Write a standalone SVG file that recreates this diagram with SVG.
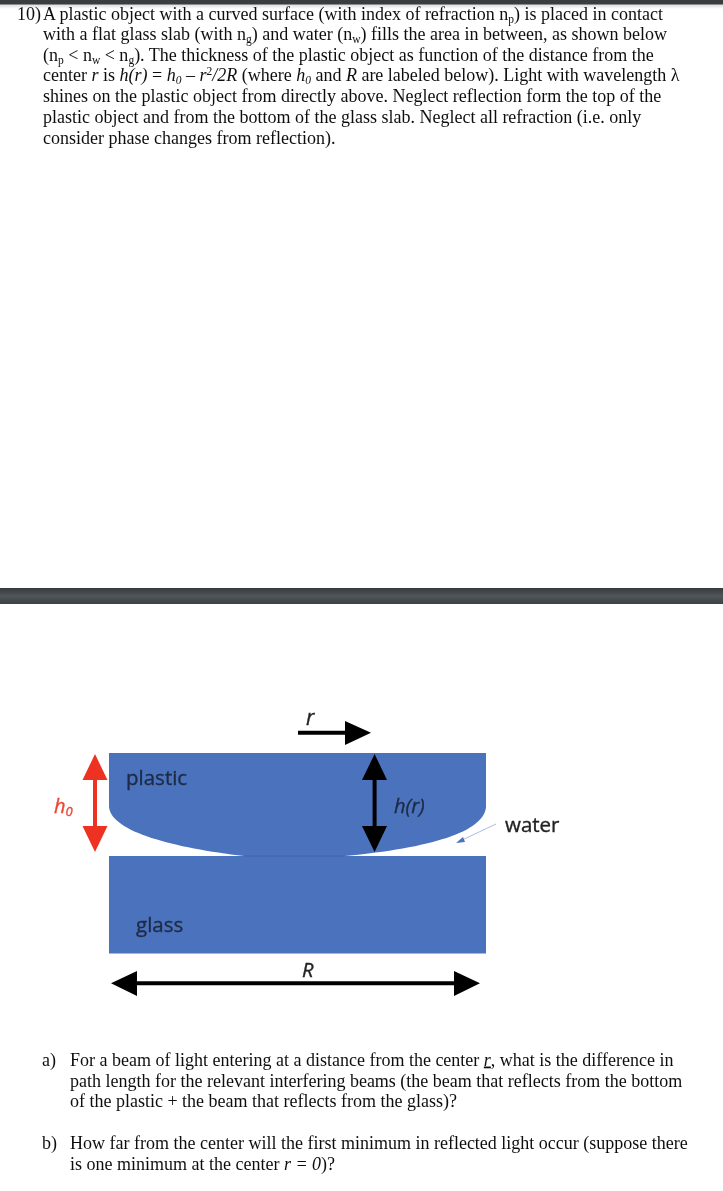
<svg xmlns="http://www.w3.org/2000/svg" width="723" height="1191" viewBox="0 0 723 1191">
<style>
.t{font-family:"Liberation Serif","Times New Roman",serif;font-size:18px;fill:#111}
.s{font-size:11.5px}
.l{font-family:"Open Sans","Liberation Sans",sans-serif;font-size:20.500px;fill:#222;stroke:#222;stroke-width:.35px}
.d{fill:#1d2a44;stroke:#1d2a44}
.b{fill:#4c72bd}
.i{font-style:italic}
</style>
<defs>
<linearGradient id="bar" x1="0" y1="0" x2="0" y2="1"><stop offset="0" stop-color="#363a3c"/><stop offset=".5" stop-color="#50565a"/><stop offset="1" stop-color="#3c4042"/></linearGradient>
<linearGradient id="shade" x1="0" y1="0" x2="0" y2="1"><stop offset="0" stop-color="#d8d8d8"/><stop offset="1" stop-color="#fff"/></linearGradient>
<filter id="blur" x="-5%" y="-5%" width="110%" height="110%"><feGaussianBlur stdDeviation="0.55"/></filter>
<filter id="tb" x="-5%" y="-20%" width="110%" height="140%"><feGaussianBlur stdDeviation="0.4"/></filter>
</defs>
<rect width="723" height="1191" fill="#fff"/>
<rect id="top-shade" x="0" y="4" width="723" height="5" fill="url(#shade)"/>
<rect id="top-bar" x="0" y="0" width="723" height="4.5" fill="#3a3d3f"/>
<rect id="mid-bar" x="0" y="588" width="723" height="16" fill="url(#bar)"/>
<g id="question" filter="url(#tb)">
<text class="t" x="17" y="19.500">10)</text>
<text class="t" x="43" y="19.500">A plastic object with a curved surface (with index of refraction n<tspan class="s" dy="3">p</tspan><tspan dy="-3">) is placed in contact</tspan></text>
<text class="t" x="43" y="40">with a flat glass slab (with n<tspan class="s" dy="3">g</tspan><tspan dy="-3">) and water (n</tspan><tspan class="s" dy="3">w</tspan><tspan dy="-3">) fills the area in between, as shown below</tspan></text>
<text class="t" x="43" y="60.500">(n<tspan class="s" dy="3">p</tspan><tspan dy="-3"> &lt; n</tspan><tspan class="s" dy="3">w</tspan><tspan dy="-3"> &lt; n</tspan><tspan class="s" dy="3">g</tspan><tspan dy="-3">). The thickness of the plastic object as function of the distance from the</tspan></text>
<text class="t" x="43" y="81">center <tspan class="i">r</tspan> is <tspan class="i">h(r)</tspan> = <tspan class="i">h</tspan><tspan class="s i" dy="3">0</tspan><tspan dy="-3"> – </tspan><tspan class="i">r</tspan><tspan class="s" dy="-6">2</tspan><tspan class="i" dy="6">/2R</tspan> (where <tspan class="i">h</tspan><tspan class="s i" dy="3">0</tspan><tspan dy="-3"> and </tspan><tspan class="i">R</tspan> are labeled below). Light with wavelength λ</text>
<text class="t" x="43" y="102">shines on the plastic object from directly above. Neglect reflection form the top of the</text>
<text class="t" x="43" y="122.500">plastic object and from the bottom of the glass slab. Neglect all refraction (i.e. only</text>
<text class="t" x="43" y="143.500">consider phase changes from reflection).</text>
</g>
<g id="plastic" filter="url(#blur)"><path class="b" d="M109 753H486V807C484 832 430 848 345 856H244C175 848 111 832 109 807Z"/></g>
<g id="glass" filter="url(#blur)"><rect class="b" x="109" y="856" width="377" height="97.500"/><path d="M244 856H345" stroke="#3f63a8" stroke-width="1" fill="none"/></g>
<g id="labels" filter="url(#tb)">
<text class="l d" x="126" y="785">plastic</text>
<text class="l d" x="136" y="932">glass</text>
<text class="l" x="505" y="832">water</text>
<text class="l i d" x="394" y="813" style="font-size:20px">h(r)</text>
<text class="l i" x="54" y="813" style="font-size:20px;fill:#ee4433;stroke:#ee4433">h<tspan dy="3" style="font-size:13px">0</tspan></text>
<text class="l i" x="306" y="725" style="font-size:21px">r</text>
<text class="l i" x="302" y="977" style="font-size:20px">R</text>
</g>
<g id="connectors" filter="url(#blur)">
<path d="M298 732.700H347" stroke="#000" stroke-width="4" fill="none"/><path d="M345 721L371 732.700 345 745Z"/>
<path d="M374.600 775V832" stroke="#000" stroke-width="4" fill="none"/><path d="M374.600 754L387 780H362Z M374.600 852L362 826H387Z"/>
<path d="M95 775V832" stroke="#ee3322" stroke-width="4" fill="none"/><path fill="#ee3322" d="M95 754L107.500 780H82.500Z M95 852L82.500 826H107.500Z"/>
<path d="M130 983.300H460" stroke="#000" stroke-width="4" fill="none"/><path d="M111 983.300L137 971V996Z M480 983.300L454 971V996Z"/>
<path d="M496 824L460 841" stroke="#a9bde2" stroke-width="1" fill="none"/><path fill="#4c72bd" d="M456 843L463 837 465 842Z"/>
</g>
<g id="parts" filter="url(#tb)">
<text class="t" x="42" y="1065.500">a)</text>
<text class="t" x="70" y="1065.500">For a beam of light entering at a distance from the center <tspan class="i" text-decoration="underline">r</tspan>, what is the difference in</text>
<text class="t" x="70" y="1087">path length for the relevant interfering beams (the beam that reflects from the bottom</text>
<text class="t" x="70" y="1106.500">of the plastic + the beam that reflects from the glass)?</text>
<text class="t" x="42" y="1149">b)</text>
<text class="t" x="70" y="1149">How far from the center will the first minimum in reflected light occur (suppose there</text>
<text class="t" x="70" y="1170">is one minimum at the center <tspan class="i">r = 0</tspan>)?</text>
</g>
</svg>
